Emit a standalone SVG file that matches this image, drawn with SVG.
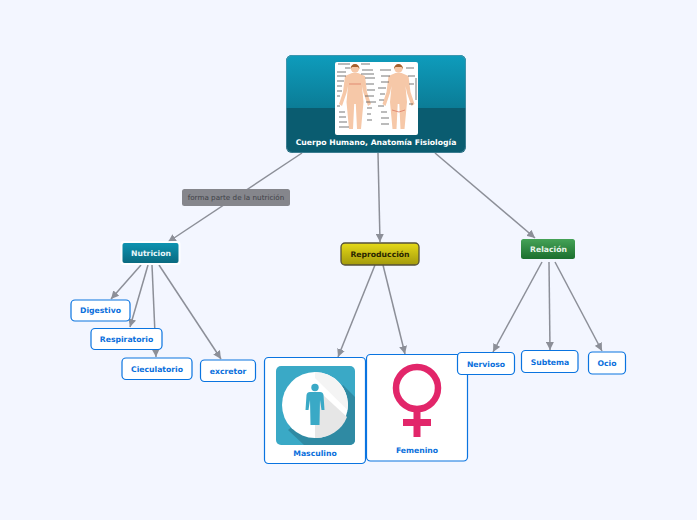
<svg xmlns="http://www.w3.org/2000/svg" width="697" height="520" viewBox="0 0 697 520">
<style>
text{font-family:"DejaVu Sans",sans-serif;font-weight:bold;font-size:7.700px;text-anchor:middle}
.leaf>rect{fill:#fff;stroke:#0a74e0;stroke-width:1.200}
.leaf text{fill:#0a6fdc}
.c{fill:none;stroke:#8c8f98;stroke-width:1.500;marker-end:url(#a)}
.skin{fill:#f6c8a8}
.hair{fill:#a5602d}
.lab{stroke:#555;stroke-width:.8;fill:none}
</style>
<defs>
<filter id="soft" x="-5%" y="-5%" width="110%" height="110%"><feGaussianBlur stdDeviation=".35"/></filter>
<marker id="a" markerUnits="userSpaceOnUse" markerWidth="9" markerHeight="8" refX="8" refY="4" orient="auto"><path d="M0 0L8 4L0 8Z" fill="#8c8f98"/></marker>
<linearGradient id="g1" x1="0" y1="0" x2="0" y2="1"><stop offset="0" stop-color="#0e9cbc"/><stop offset="1" stop-color="#0b7c96"/></linearGradient>
<linearGradient id="g2" x1="0" y1="0" x2="0" y2="1"><stop offset="0" stop-color="#0e93b0"/><stop offset="1" stop-color="#0a6a80"/></linearGradient>
<linearGradient id="g3" x1="0" y1="0" x2="0" y2="1"><stop offset="0" stop-color="#e6da18"/><stop offset="1" stop-color="#a39a0c"/></linearGradient>
<linearGradient id="g4" x1="0" y1="0" x2="0" y2="1"><stop offset="0" stop-color="#45a257"/><stop offset="1" stop-color="#1b6f2e"/></linearGradient>
<clipPath id="cm"><rect x="276" y="366" width="79" height="79" rx="5"/></clipPath>
<g id="fig"><circle cx="0" cy="6.500" r="4.200" class="skin"/><path d="M-4.500 7a4.500 5 0 0 1 9 0l-1.500-2h-6z" class="hair"/><path d="M-3 11H3L10 14L12 30L16 42L13 44L8.500 31L7 24L8.500 40L6 67H2L0.800 42H-0.800L-2 67H-6L-8.500 40L-7 24L-8.500 31L-13 44L-16 42L-12 30L-10 14Z" class="skin"/></g>
</defs>
<rect width="697" height="520" fill="#f3f6ff"/>
<g id="connectors">
<path class="c" d="M302 153L168 242"/>
<path class="c" d="M378 153L380 242"/>
<path class="c" d="M435 153L535 238"/>
<path class="c" d="M141 265L111 299"/>
<path class="c" d="M148 265L130 327"/>
<path class="c" d="M152 265L156 357"/>
<path class="c" d="M159 265L221 359"/>
<path class="c" d="M375 265L338 357"/>
<path class="c" d="M383 265L405 354"/>
<path class="c" d="M542 262L493 352"/>
<path class="c" d="M549 262L550 350"/>
<path class="c" d="M555 262L602 351"/>
</g>
<g id="root">
<rect x="286" y="55" width="180" height="98" rx="6" fill="#0a5c70"/>
<path d="M286 108V61a6 6 0 0 1 6-6H460a6 6 0 0 1 6 6V108Z" fill="url(#g1)"/>
<rect x="286.500" y="55.500" width="179" height="97" rx="6" fill="none" stroke="#5d93a6" stroke-opacity=".6"/>
<rect x="335" y="62" width="83" height="73" rx="2" fill="#fff"/>
<g filter="url(#soft)">
<use href="#fig" x="355" y="62"/>
<use href="#fig" x="398.500" y="62"/>
<path d="M349 84H361M392 110L399 112L405 110" fill="none" stroke="#d8705a" stroke-width=".7"/>
<path class="lab" d="M338 64H350M345 68H350M337 72H346M337 76H346M337 81H344M337 86H342M337 91H342M337 96H340M337 106H340M339 112H345M339 117H346M339 122H347M339 127H349M361 64H370M362 70H373M361 74H374M365 78H375M366 84H374M367 90H375M365 96H374M366 102H376M367 108H372M367 114H371M367 120H372M380 70H391M381 76H390M381 82H389M378 88H386M380 94H385M379 100H384M378 106H384M381 112H387M381 118H389M381 124H389M406 68H414M408 76H415M409 84H414M416 78V100M409 104H413"/>
</g>
<text x="376" y="144.500" fill="#fff">Cuerpo Humano, Anatomía Fisiología</text>
</g>
<g id="label-nutricion">
<rect x="182" y="189" width="108" height="17" rx="2.500" fill="#85868c"/>
<text x="236" y="200" style="font-weight:normal;font-size:7.200px" fill="#3f4147">forma parte de la nutrición</text>
</g>
<g id="nutricion">
<rect x="120.500" y="241" width="60" height="24" rx="3" fill="#fff" opacity=".9"/>
<rect x="122.500" y="243" width="56" height="20" rx="2" fill="url(#g2)"/>
<text x="151" y="255.500" fill="#e8f6fa">Nutricion</text>
</g>
<g id="reproduccion">
<rect x="341" y="243" width="78" height="22" rx="4" fill="url(#g3)" stroke="#55503a" stroke-width="1.300"/>
<text x="380" y="256.500" fill="#2a2600">Reproducción</text>
</g>
<g id="relacion">
<rect x="521" y="239" width="54" height="20" rx="2.500" fill="url(#g4)"/>
<text x="548.500" y="251.500" fill="#e8f5ea">Relación</text>
</g>
<g id="digestivo" class="leaf"><rect x="71" y="300" width="59" height="21" rx="4"/><text x="100.500" y="313">Digestivo</text></g>
<g id="respiratorio" class="leaf"><rect x="91" y="328.500" width="71" height="21" rx="4"/><text x="126.500" y="341.500">Respiratorio</text></g>
<g id="cieculatorio" class="leaf"><rect x="122" y="358" width="70" height="21.500" rx="4"/><text x="157" y="371.500">Cieculatorio</text></g>
<g id="excretor" class="leaf"><rect x="200.500" y="360" width="55" height="21.500" rx="4"/><text x="228" y="373.500">excretor</text></g>
<g id="masculino" class="leaf">
<rect x="264.500" y="357.500" width="101" height="106" rx="4"/>
<g clip-path="url(#cm)">
<path d="M276 366H355V445H276Z" fill="#3aa9c6"/>
<path d="M343 385L355 397V445H304L288 430Z" fill="#2f8aa3"/>
</g>
<circle cx="315" cy="405" r="33" fill="#fff"/>
<path d="M315 372a33 33 0 0 1 32.600 38L315 378Z" fill="#f4f4f4"/>
<path d="M322 394L347 417a33 33 0 0 1-32 21L315 424Z" fill="#e6e6e6"/>
<circle cx="315" cy="387.500" r="3.700" fill="#3aa9c6"/>
<path d="M310 392H320Q323 392 323.500 395L324.500 410H321.500L320 400L319.500 425H310.500L310 400L308.500 410H305.500L306.500 395Q307 392 310 392Z" fill="#3aa9c6"/>
<text x="315" y="456" fill="#2f82e0">Masculino</text>
</g>
<g id="femenino" class="leaf">
<rect x="366.500" y="354.500" width="101" height="106.500" rx="4"/>
<circle cx="417" cy="388" r="21" fill="none" stroke="#e2266a" stroke-width="6.500"/>
<path d="M413.500 411H420.500V419H431V426H420.500V437H413.500V426H403V419H413.500Z" fill="#e2266a"/>
<text x="417" y="453" fill="#2f82e0">Femenino</text>
</g>
<g id="nervioso" class="leaf"><rect x="457.500" y="352.500" width="57" height="22" rx="4"/><text x="486" y="366.500">Nervioso</text></g>
<g id="subtema" class="leaf"><rect x="521.500" y="350.500" width="56.500" height="22" rx="4"/><text x="550" y="364.500">Subtema</text></g>
<g id="ocio" class="leaf"><rect x="588.500" y="352" width="37" height="22" rx="4"/><text x="607" y="365.500">Ocio</text></g>
</svg>
